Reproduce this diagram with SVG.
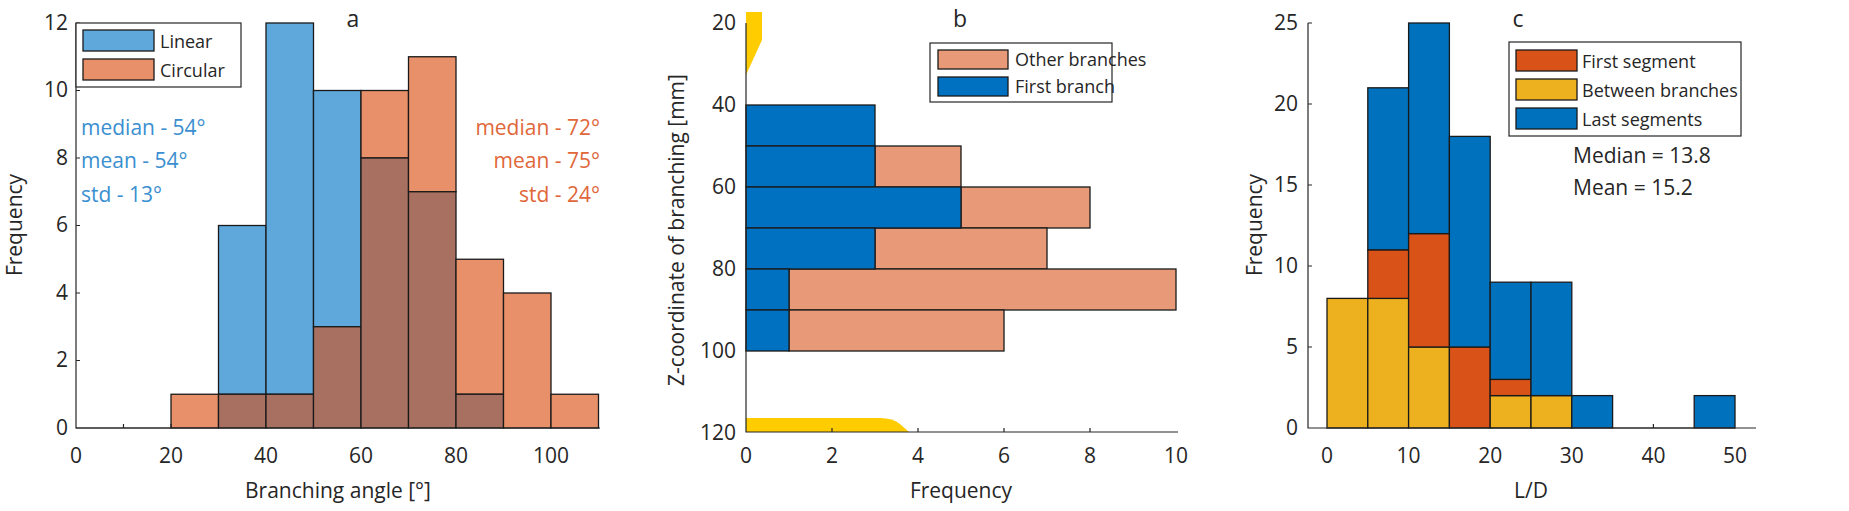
<svg xmlns="http://www.w3.org/2000/svg" width="1849" height="511" viewBox="0 0 1849 511">
<style>
text{font-family:"Open Sans","Liberation Sans",sans-serif;fill:#262626}
.t{font-size:21px}
.tc{font-size:21px;text-anchor:middle}
.tr{font-size:21px;text-anchor:end}
.ax{stroke:#262626;stroke-width:1.2;fill:none}
.b{stroke:#1a1a1a;stroke-width:1.3}
.lg{fill:#fff;stroke:#262626;stroke-width:1.2}
</style>
<rect width="1849" height="511" fill="#fff"/>
<g id="panel-a">
<rect class="b" x="171" y="394.25" width="47.5" height="33.75" fill="#e8906a"/>
<rect class="b" x="218.5" y="225.5" width="47.5" height="168.75" fill="#5fa8dc"/>
<rect class="b" x="266" y="23" width="47.5" height="371.25" fill="#5fa8dc"/>
<rect class="b" x="313.5" y="90.5" width="47.5" height="236.25" fill="#5fa8dc"/>
<rect class="b" x="218.5" y="394.25" width="47.5" height="33.75" fill="#a87060"/>
<rect class="b" x="266" y="394.25" width="47.5" height="33.75" fill="#a87060"/>
<rect class="b" x="313.5" y="326.75" width="47.5" height="101.25" fill="#a87060"/>
<rect class="b" x="361" y="90.5" width="47.5" height="67.5" fill="#e8906a"/>
<rect class="b" x="361" y="158" width="47.5" height="270" fill="#a87060"/>
<rect class="b" x="408.5" y="56.75" width="47.5" height="135" fill="#e8906a"/>
<rect class="b" x="408.5" y="191.75" width="47.5" height="236.25" fill="#a87060"/>
<rect class="b" x="456" y="259.25" width="47.5" height="135" fill="#e8906a"/>
<rect class="b" x="456" y="394.25" width="47.5" height="33.75" fill="#a87060"/>
<rect class="b" x="503.5" y="293" width="47.5" height="135" fill="#e8906a"/>
<rect class="b" x="551" y="394.25" width="47.5" height="33.75" fill="#e8906a"/>
<path class="ax" d="M76 23V428H600"/>
<path class="ax" d="M76 428h95" stroke-width="2"/>
<path class="ax" d="M76 360.5h4M76 293h4M76 225.5h4M76 158h4M76 90.5h4M76 23h4M123.5 428v-4M171 428v-4"/>
<g class="tr"><text x="68" y="435">0</text><text x="68" y="367">2</text><text x="68" y="300">4</text><text x="68" y="232">6</text><text x="68" y="165">8</text><text x="68" y="97">10</text><text x="68" y="30">12</text></g>
<g class="tc"><text x="76" y="463">0</text><text x="171" y="463">20</text><text x="266" y="463">40</text><text x="361" y="463">60</text><text x="456" y="463">80</text><text x="551" y="463">100</text></g>
<text class="tc" x="338" y="498">Branching angle [°]</text>
<text class="tc" transform="translate(22 225) rotate(-90)">Frequency</text>
<text class="tc" x="353" y="27" style="font-size:23px">a</text>
<rect class="lg" x="76" y="23" width="165" height="64"/>
<rect class="b" x="83" y="30" width="71" height="21" fill="#5fa8dc"/>
<rect class="b" x="83" y="59" width="71" height="21" fill="#e8906a"/>
<text class="t" x="160" y="48" style="font-size:18px">Linear</text>
<text class="t" x="160" y="77" style="font-size:18px">Circular</text>
<g class="t"><text x="81" y="135" style="fill:#3a8fd0">median - 54°</text><text x="81" y="168" style="fill:#3a8fd0">mean - 54°</text><text x="81" y="202" style="fill:#3a8fd0">std - 13°</text></g>
<g class="tr"><text x="600" y="135" style="fill:#e0673a">median - 72°</text><text x="600" y="168" style="fill:#e0673a">mean - 75°</text><text x="600" y="202" style="fill:#e0673a">std - 24°</text></g>
</g>
<g id="panel-b">
<path d="M746 12H762V40L746 75Z" fill="#ffcc00"/>
<path d="M746 418H880Q893 418 900 424L909 432H746Z" fill="#ffcc00"/>
<rect class="b" x="875" y="146" width="86" height="41" fill="#e89a78"/>
<rect class="b" x="961" y="187" width="129" height="41" fill="#e89a78"/>
<rect class="b" x="875" y="228" width="172" height="41" fill="#e89a78"/>
<rect class="b" x="789" y="269" width="387" height="41" fill="#e89a78"/>
<rect class="b" x="789" y="310" width="215" height="41" fill="#e89a78"/>
<rect class="b" x="746" y="105" width="129" height="41" fill="#0070c0"/>
<rect class="b" x="746" y="146" width="129" height="41" fill="#0070c0"/>
<rect class="b" x="746" y="187" width="215" height="41" fill="#0070c0"/>
<rect class="b" x="746" y="228" width="129" height="41" fill="#0070c0"/>
<rect class="b" x="746" y="269" width="43" height="41" fill="#0070c0"/>
<rect class="b" x="746" y="310" width="43" height="41" fill="#0070c0"/>
<path class="ax" d="M746 23V432H1178"/>
<path class="ax" d="M832 432v-4M918 432v-4M1004 432v-4M1090 432v-4"/>
<g class="tr"><text x="736" y="30">20</text><text x="736" y="112">40</text><text x="736" y="194">60</text><text x="736" y="276">80</text><text x="736" y="358">100</text><text x="736" y="440">120</text></g>
<g class="tc"><text x="746" y="463">0</text><text x="832" y="463">2</text><text x="918" y="463">4</text><text x="1004" y="463">6</text><text x="1090" y="463">8</text><text x="1176" y="463">10</text></g>
<text class="tc" x="961" y="498">Frequency</text>
<text class="tc" transform="translate(684 230) rotate(-90)">Z-coordinate of branching [mm]</text>
<text class="tc" x="960" y="27" style="font-size:23px">b</text>
<rect class="lg" x="930" y="43" width="182" height="59"/>
<rect class="b" x="938" y="50" width="70" height="19" fill="#e89a78"/>
<rect class="b" x="938" y="77" width="70" height="19" fill="#0070c0"/>
<text class="t" x="1015" y="66" style="font-size:18px">Other branches</text>
<text class="t" x="1015" y="93" style="font-size:18px">First branch</text>
</g>
<g id="panel-c">
<rect class="b" x="1327" y="298.4" width="40.8" height="129.6" fill="#edb120"/>
<rect class="b" x="1367.8" y="298.4" width="40.8" height="129.6" fill="#edb120"/>
<rect class="b" x="1367.8" y="249.8" width="40.8" height="48.6" fill="#d95319"/>
<rect class="b" x="1367.8" y="87.8" width="40.8" height="162" fill="#0072bd"/>
<rect class="b" x="1408.6" y="347" width="40.8" height="81" fill="#edb120"/>
<rect class="b" x="1408.6" y="233.6" width="40.8" height="113.4" fill="#d95319"/>
<rect class="b" x="1408.6" y="23" width="40.8" height="210.6" fill="#0072bd"/>
<rect class="b" x="1449.4" y="347" width="40.8" height="81" fill="#d95319"/>
<rect class="b" x="1449.4" y="136.4" width="40.8" height="210.6" fill="#0072bd"/>
<rect class="b" x="1490.2" y="395.6" width="40.8" height="32.4" fill="#edb120"/>
<rect class="b" x="1490.2" y="379.4" width="40.8" height="16.2" fill="#d95319"/>
<rect class="b" x="1490.2" y="282.2" width="40.8" height="97.2" fill="#0072bd"/>
<rect class="b" x="1531" y="395.6" width="40.8" height="32.4" fill="#edb120"/>
<rect class="b" x="1531" y="282.2" width="40.8" height="113.4" fill="#0072bd"/>
<rect class="b" x="1571.8" y="395.6" width="40.8" height="32.4" fill="#0072bd"/>
<rect class="b" x="1694.2" y="395.6" width="40.8" height="32.4" fill="#0072bd"/>
<path class="ax" d="M1308 23V428H1756"/>
<path class="ax" d="M1612.6 428h81.6" stroke-width="2"/>
<path class="ax" d="M1308 347h4M1308 266h4M1308 185h4M1308 104h4M1308 23h4M1653.4 428v-4"/>
<g class="tr"><text x="1298" y="435">0</text><text x="1298" y="354">5</text><text x="1298" y="273">10</text><text x="1298" y="192">15</text><text x="1298" y="111">20</text><text x="1298" y="30">25</text></g>
<g class="tc"><text x="1327" y="463">0</text><text x="1408.6" y="463">10</text><text x="1490.2" y="463">20</text><text x="1571.8" y="463">30</text><text x="1653.4" y="463">40</text><text x="1735" y="463">50</text></g>
<text class="tc" x="1531" y="498">L/D</text>
<text class="tc" transform="translate(1262 225) rotate(-90)">Frequency</text>
<text class="tc" x="1518" y="27" style="font-size:23px">c</text>
<rect class="lg" x="1509" y="42" width="232" height="94"/>
<rect class="b" x="1516" y="50" width="61" height="21" fill="#d95319"/>
<rect class="b" x="1516" y="79" width="61" height="21" fill="#edb120"/>
<rect class="b" x="1516" y="108" width="61" height="21" fill="#0072bd"/>
<text class="t" x="1582" y="68" style="font-size:18px">First segment</text>
<text class="t" x="1582" y="97" style="font-size:18px">Between branches</text>
<text class="t" x="1582" y="126" style="font-size:18px">Last segments</text>
<text class="t" x="1573" y="163">Median = 13.8</text>
<text class="t" x="1573" y="195">Mean = 15.2</text>
</g>
</svg>
